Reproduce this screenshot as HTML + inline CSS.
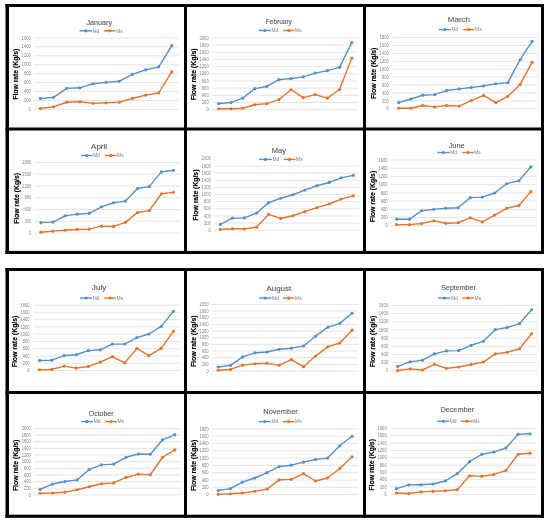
<!DOCTYPE html>
<html><head><meta charset="utf-8"><title>Flow rate charts</title>
<style>
html,body{margin:0;padding:0;background:#fff;}
svg{display:block;}
text{font-family:"Liberation Sans",Arial,sans-serif;}
.t{fill:#858585;font-size:4.6px;text-anchor:end;}
.ti{fill:#595959;font-size:7.3px;stroke:#595959;stroke-width:0.12px;}
.lg{fill:#7E7E7E;font-size:4.9px;}
.yt{font-weight:bold;fill:#000;font-size:7.4px;text-anchor:middle;stroke:#000;stroke-width:0.15px;}
.g{stroke:#E2E2E2;stroke-width:0.9;}
.lb{stroke:#5591CB;stroke-width:1.4;fill:none;stroke-linejoin:round;}
.lo{stroke:#E4752E;stroke-width:1.4;fill:none;stroke-linejoin:round;}
.mb{fill:#5591CB;}
.mo{fill:#E4752E;}
</style></head><body>
<svg width="550" height="523" viewBox="0 0 550 523">
<rect width="550" height="523" fill="#fff"/>
<g>
<line class="g" x1="33.79" y1="109.4" x2="178.39" y2="109.4"/>
<line class="g" x1="33.79" y1="100.46" x2="178.39" y2="100.46"/>
<line class="g" x1="33.79" y1="91.53" x2="178.39" y2="91.53"/>
<line class="g" x1="33.79" y1="82.59" x2="178.39" y2="82.59"/>
<line class="g" x1="33.79" y1="73.65" x2="178.39" y2="73.65"/>
<line class="g" x1="33.79" y1="64.71" x2="178.39" y2="64.71"/>
<line class="g" x1="33.79" y1="55.78" x2="178.39" y2="55.78"/>
<line class="g" x1="33.79" y1="46.84" x2="178.39" y2="46.84"/>
<line class="g" x1="33.79" y1="37.9" x2="178.39" y2="37.9"/>
<text class="t" x="30.8" y="111.05" textLength="2.3" lengthAdjust="spacingAndGlyphs">0</text>
<text class="t" x="30.8" y="102.11" textLength="6.9" lengthAdjust="spacingAndGlyphs">200</text>
<text class="t" x="30.8" y="93.18" textLength="6.9" lengthAdjust="spacingAndGlyphs">400</text>
<text class="t" x="30.8" y="84.24" textLength="6.9" lengthAdjust="spacingAndGlyphs">600</text>
<text class="t" x="30.8" y="75.3" textLength="6.9" lengthAdjust="spacingAndGlyphs">800</text>
<text class="t" x="30.8" y="66.36" textLength="9.2" lengthAdjust="spacingAndGlyphs">1000</text>
<text class="t" x="30.8" y="57.43" textLength="9.2" lengthAdjust="spacingAndGlyphs">1200</text>
<text class="t" x="30.8" y="48.49" textLength="9.2" lengthAdjust="spacingAndGlyphs">1400</text>
<text class="t" x="30.8" y="39.55" textLength="9.2" lengthAdjust="spacingAndGlyphs">1600</text>
<text class="ti" x="86.5" y="24.7" textLength="25.5" lengthAdjust="spacingAndGlyphs">January</text>
<line class="lb" x1="79.6" y1="30.8" x2="91.9" y2="30.8"/><circle class="mb" cx="85.75" cy="30.8" r="1.6"/>
<text class="lg" x="92.5" y="32.55">Md</text>
<line class="lo" x1="103.9" y1="30.8" x2="115.6" y2="30.8"/><circle class="mo" cx="109.75" cy="30.8" r="1.6"/>
<text class="lg" x="116.2" y="32.55">Ms</text>
<text class="yt" textLength="51" lengthAdjust="spacingAndGlyphs" transform="translate(17.6,74.2) rotate(-90)">Flow rate (Kg/s)</text>
<polyline class="lb" points="40.36,98.45 53.45,97.36 66.82,88.36 79.91,87.82 93,83.73 106.09,82.36 119.18,81.27 132.27,74.45 145.64,69.82 158.73,66.82 171.82,45.55"/>
<circle class="mb" cx="40.36" cy="98.45" r="1.6"/><circle class="mb" cx="53.45" cy="97.36" r="1.6"/><circle class="mb" cx="66.82" cy="88.36" r="1.6"/><circle class="mb" cx="79.91" cy="87.82" r="1.6"/><circle class="mb" cx="93" cy="83.73" r="1.6"/><circle class="mb" cx="106.09" cy="82.36" r="1.6"/><circle class="mb" cx="119.18" cy="81.27" r="1.6"/><circle class="mb" cx="132.27" cy="74.45" r="1.6"/><circle class="mb" cx="145.64" cy="69.82" r="1.6"/><circle class="mb" cx="158.73" cy="66.82" r="1.6"/><circle class="mb" cx="171.82" cy="45.55" r="1.6"/>
<polyline class="lo" points="40.36,108.55 53.45,106.91 66.82,102.27 79.91,101.73 93,103.36 106.09,102.82 119.18,102.27 132.27,98.45 145.64,95.18 158.73,93 171.82,71.73"/>
<circle class="mo" cx="40.36" cy="108.55" r="1.6"/><circle class="mo" cx="53.45" cy="106.91" r="1.6"/><circle class="mo" cx="66.82" cy="102.27" r="1.6"/><circle class="mo" cx="79.91" cy="101.73" r="1.6"/><circle class="mo" cx="93" cy="103.36" r="1.6"/><circle class="mo" cx="106.09" cy="102.82" r="1.6"/><circle class="mo" cx="119.18" cy="102.27" r="1.6"/><circle class="mo" cx="132.27" cy="98.45" r="1.6"/><circle class="mo" cx="145.64" cy="95.18" r="1.6"/><circle class="mo" cx="158.73" cy="93" r="1.6"/><circle class="mo" cx="171.82" cy="71.73" r="1.6"/>
</g>
<g>
<line class="g" x1="212.68" y1="109.7" x2="357.87" y2="109.7"/>
<line class="g" x1="212.68" y1="102.52" x2="357.87" y2="102.52"/>
<line class="g" x1="212.68" y1="95.34" x2="357.87" y2="95.34"/>
<line class="g" x1="212.68" y1="88.16" x2="357.87" y2="88.16"/>
<line class="g" x1="212.68" y1="80.98" x2="357.87" y2="80.98"/>
<line class="g" x1="212.68" y1="73.8" x2="357.87" y2="73.8"/>
<line class="g" x1="212.68" y1="66.62" x2="357.87" y2="66.62"/>
<line class="g" x1="212.68" y1="59.44" x2="357.87" y2="59.44"/>
<line class="g" x1="212.68" y1="52.26" x2="357.87" y2="52.26"/>
<line class="g" x1="212.68" y1="45.08" x2="357.87" y2="45.08"/>
<line class="g" x1="212.68" y1="37.9" x2="357.87" y2="37.9"/>
<text class="t" x="208.7" y="111.35" textLength="2.3" lengthAdjust="spacingAndGlyphs">0</text>
<text class="t" x="208.7" y="104.17" textLength="6.9" lengthAdjust="spacingAndGlyphs">200</text>
<text class="t" x="208.7" y="96.99" textLength="6.9" lengthAdjust="spacingAndGlyphs">400</text>
<text class="t" x="208.7" y="89.81" textLength="6.9" lengthAdjust="spacingAndGlyphs">600</text>
<text class="t" x="208.7" y="82.63" textLength="6.9" lengthAdjust="spacingAndGlyphs">800</text>
<text class="t" x="208.7" y="75.45" textLength="9.2" lengthAdjust="spacingAndGlyphs">1000</text>
<text class="t" x="208.7" y="68.27" textLength="9.2" lengthAdjust="spacingAndGlyphs">1200</text>
<text class="t" x="208.7" y="61.09" textLength="9.2" lengthAdjust="spacingAndGlyphs">1400</text>
<text class="t" x="208.7" y="53.91" textLength="9.2" lengthAdjust="spacingAndGlyphs">1600</text>
<text class="t" x="208.7" y="46.73" textLength="9.2" lengthAdjust="spacingAndGlyphs">1800</text>
<text class="t" x="208.7" y="39.55" textLength="9.2" lengthAdjust="spacingAndGlyphs">2000</text>
<text class="ti" x="265.8" y="23.6" textLength="26" lengthAdjust="spacingAndGlyphs">February</text>
<line class="lb" x1="258.7" y1="30.5" x2="270.9" y2="30.5"/><circle class="mb" cx="264.8" cy="30.5" r="1.6"/>
<text class="lg" x="271.5" y="32.25">Md</text>
<line class="lo" x1="283.1" y1="30.5" x2="294.5" y2="30.5"/><circle class="mo" cx="288.8" cy="30.5" r="1.6"/>
<text class="lg" x="295.1" y="32.25">Ms</text>
<text class="yt" textLength="51.9" lengthAdjust="spacingAndGlyphs" transform="translate(196,74.35) rotate(-90)">Flow rate (Kg/s)</text>
<polyline class="lb" points="218.73,103.64 231,102.55 242.73,98.18 254.73,88.64 266.73,86.45 279,79.64 291,78.55 303.27,76.91 315.27,73.09 327.27,70.64 339.55,67.36 351.82,42.55"/>
<circle class="mb" cx="218.73" cy="103.64" r="1.6"/><circle class="mb" cx="231" cy="102.55" r="1.6"/><circle class="mb" cx="242.73" cy="98.18" r="1.6"/><circle class="mb" cx="254.73" cy="88.64" r="1.6"/><circle class="mb" cx="266.73" cy="86.45" r="1.6"/><circle class="mb" cx="279" cy="79.64" r="1.6"/><circle class="mb" cx="291" cy="78.55" r="1.6"/><circle class="mb" cx="303.27" cy="76.91" r="1.6"/><circle class="mb" cx="315.27" cy="73.09" r="1.6"/><circle class="mb" cx="327.27" cy="70.64" r="1.6"/><circle class="mb" cx="339.55" cy="67.36" r="1.6"/><circle class="mb" cx="351.82" cy="42.55" r="1.6"/>
<polyline class="lo" points="218.73,108.82 231,108.82 242.73,108.27 254.73,104.73 266.73,103.64 279,99.55 291,89.73 303.27,97.64 315.27,94.64 327.27,98.18 339.55,89.45 351.82,58.09"/>
<circle class="mo" cx="218.73" cy="108.82" r="1.6"/><circle class="mo" cx="231" cy="108.82" r="1.6"/><circle class="mo" cx="242.73" cy="108.27" r="1.6"/><circle class="mo" cx="254.73" cy="104.73" r="1.6"/><circle class="mo" cx="266.73" cy="103.64" r="1.6"/><circle class="mo" cx="279" cy="99.55" r="1.6"/><circle class="mo" cx="291" cy="89.73" r="1.6"/><circle class="mo" cx="303.27" cy="97.64" r="1.6"/><circle class="mo" cx="315.27" cy="94.64" r="1.6"/><circle class="mo" cx="327.27" cy="98.18" r="1.6"/><circle class="mo" cx="339.55" cy="89.45" r="1.6"/><circle class="mo" cx="351.82" cy="58.09" r="1.6"/>
</g>
<g>
<line class="g" x1="392.67" y1="108.8" x2="538.15" y2="108.8"/>
<line class="g" x1="392.67" y1="100.89" x2="538.15" y2="100.89"/>
<line class="g" x1="392.67" y1="92.98" x2="538.15" y2="92.98"/>
<line class="g" x1="392.67" y1="85.07" x2="538.15" y2="85.07"/>
<line class="g" x1="392.67" y1="77.16" x2="538.15" y2="77.16"/>
<line class="g" x1="392.67" y1="69.24" x2="538.15" y2="69.24"/>
<line class="g" x1="392.67" y1="61.33" x2="538.15" y2="61.33"/>
<line class="g" x1="392.67" y1="53.42" x2="538.15" y2="53.42"/>
<line class="g" x1="392.67" y1="45.51" x2="538.15" y2="45.51"/>
<line class="g" x1="392.67" y1="37.6" x2="538.15" y2="37.6"/>
<text class="t" x="388.8" y="110.45" textLength="2.3" lengthAdjust="spacingAndGlyphs">0</text>
<text class="t" x="388.8" y="102.54" textLength="6.9" lengthAdjust="spacingAndGlyphs">200</text>
<text class="t" x="388.8" y="94.63" textLength="6.9" lengthAdjust="spacingAndGlyphs">400</text>
<text class="t" x="388.8" y="86.72" textLength="6.9" lengthAdjust="spacingAndGlyphs">600</text>
<text class="t" x="388.8" y="78.81" textLength="6.9" lengthAdjust="spacingAndGlyphs">800</text>
<text class="t" x="388.8" y="70.89" textLength="9.2" lengthAdjust="spacingAndGlyphs">1000</text>
<text class="t" x="388.8" y="62.98" textLength="9.2" lengthAdjust="spacingAndGlyphs">1200</text>
<text class="t" x="388.8" y="55.07" textLength="9.2" lengthAdjust="spacingAndGlyphs">1400</text>
<text class="t" x="388.8" y="47.16" textLength="9.2" lengthAdjust="spacingAndGlyphs">1600</text>
<text class="t" x="388.8" y="39.25" textLength="9.2" lengthAdjust="spacingAndGlyphs">1800</text>
<text class="ti" x="447.8" y="21.8" textLength="22.2" lengthAdjust="spacingAndGlyphs">March</text>
<line class="lb" x1="438.7" y1="29.6" x2="450.9" y2="29.6"/><circle class="mb" cx="444.8" cy="29.6" r="1.6"/>
<text class="lg" x="451.5" y="31.35">Md</text>
<line class="lo" x1="463.1" y1="29.6" x2="474.5" y2="29.6"/><circle class="mo" cx="468.8" cy="29.6" r="1.6"/>
<text class="lg" x="475.1" y="31.35">Ms</text>
<text class="yt" textLength="51.5" lengthAdjust="spacingAndGlyphs" transform="translate(375.65,73.35) rotate(-90)">Flow rate (Kg/s)</text>
<polyline class="lb" points="398.73,102.55 411,99 422.73,95.18 434.73,94.64 446.73,90.55 459.27,88.91 471.27,87.55 483.55,85.91 495.82,83.73 507.82,82.64 520.09,59.73 532.09,41.45"/>
<circle class="mb" cx="398.73" cy="102.55" r="1.6"/><circle class="mb" cx="411" cy="99" r="1.6"/><circle class="mb" cx="422.73" cy="95.18" r="1.6"/><circle class="mb" cx="434.73" cy="94.64" r="1.6"/><circle class="mb" cx="446.73" cy="90.55" r="1.6"/><circle class="mb" cx="459.27" cy="88.91" r="1.6"/><circle class="mb" cx="471.27" cy="87.55" r="1.6"/><circle class="mb" cx="483.55" cy="85.91" r="1.6"/><circle class="mb" cx="495.82" cy="83.73" r="1.6"/><circle class="mb" cx="507.82" cy="82.64" r="1.6"/><circle class="mb" cx="520.09" cy="59.73" r="1.6"/><circle class="mb" cx="532.09" cy="41.45" r="1.6"/>
<polyline class="lo" points="398.73,108.27 411,108.27 422.73,105.55 434.73,106.91 446.73,105.55 459.27,106.09 471.27,100.64 483.55,95.45 495.82,102.55 507.82,96.27 520.09,84.55 532.09,62.45"/>
<circle class="mo" cx="398.73" cy="108.27" r="1.6"/><circle class="mo" cx="411" cy="108.27" r="1.6"/><circle class="mo" cx="422.73" cy="105.55" r="1.6"/><circle class="mo" cx="434.73" cy="106.91" r="1.6"/><circle class="mo" cx="446.73" cy="105.55" r="1.6"/><circle class="mo" cx="459.27" cy="106.09" r="1.6"/><circle class="mo" cx="471.27" cy="100.64" r="1.6"/><circle class="mo" cx="483.55" cy="95.45" r="1.6"/><circle class="mo" cx="495.82" cy="102.55" r="1.6"/><circle class="mo" cx="507.82" cy="96.27" r="1.6"/><circle class="mo" cx="520.09" cy="84.55" r="1.6"/><circle class="mo" cx="532.09" cy="62.45" r="1.6"/>
</g>
<g>
<line class="g" x1="34.88" y1="233" x2="179.48" y2="233"/>
<line class="g" x1="34.88" y1="221.27" x2="179.48" y2="221.27"/>
<line class="g" x1="34.88" y1="209.53" x2="179.48" y2="209.53"/>
<line class="g" x1="34.88" y1="197.8" x2="179.48" y2="197.8"/>
<line class="g" x1="34.88" y1="186.07" x2="179.48" y2="186.07"/>
<line class="g" x1="34.88" y1="174.33" x2="179.48" y2="174.33"/>
<line class="g" x1="34.88" y1="162.6" x2="179.48" y2="162.6"/>
<text class="t" x="31.3" y="234.65" textLength="2.3" lengthAdjust="spacingAndGlyphs">0</text>
<text class="t" x="31.3" y="222.92" textLength="6.9" lengthAdjust="spacingAndGlyphs">300</text>
<text class="t" x="31.3" y="211.18" textLength="6.9" lengthAdjust="spacingAndGlyphs">600</text>
<text class="t" x="31.3" y="199.45" textLength="6.9" lengthAdjust="spacingAndGlyphs">900</text>
<text class="t" x="31.3" y="187.72" textLength="9.2" lengthAdjust="spacingAndGlyphs">1200</text>
<text class="t" x="31.3" y="175.98" textLength="9.2" lengthAdjust="spacingAndGlyphs">1500</text>
<text class="t" x="31.3" y="164.25" textLength="9.2" lengthAdjust="spacingAndGlyphs">1800</text>
<text class="ti" x="91.1" y="148.7" textLength="16" lengthAdjust="spacingAndGlyphs">April</text>
<line class="lb" x1="80.8" y1="155.5" x2="92.7" y2="155.5"/><circle class="mb" cx="86.75" cy="155.5" r="1.6"/>
<text class="lg" x="93.3" y="157.25">Md</text>
<line class="lo" x1="105" y1="155.5" x2="116.5" y2="155.5"/><circle class="mo" cx="110.75" cy="155.5" r="1.6"/>
<text class="lg" x="117.1" y="157.25">Ms</text>
<text class="yt" textLength="51" lengthAdjust="spacingAndGlyphs" transform="translate(18.7,198.5) rotate(-90)">Flow rate (Kg/s)</text>
<polyline class="lb" points="40.91,222.64 52.91,222.09 65.18,215.82 77.18,214.18 89.18,213.36 101.45,206.82 113.45,202.73 125.45,201.09 137.45,188.55 149.18,186.64 161.45,171.91 173.45,170.27"/>
<circle class="mb" cx="40.91" cy="222.64" r="1.6"/><circle class="mb" cx="52.91" cy="222.09" r="1.6"/><circle class="mb" cx="65.18" cy="215.82" r="1.6"/><circle class="mb" cx="77.18" cy="214.18" r="1.6"/><circle class="mb" cx="89.18" cy="213.36" r="1.6"/><circle class="mb" cx="101.45" cy="206.82" r="1.6"/><circle class="mb" cx="113.45" cy="202.73" r="1.6"/><circle class="mb" cx="125.45" cy="201.09" r="1.6"/><circle class="mb" cx="137.45" cy="188.55" r="1.6"/><circle class="mb" cx="149.18" cy="186.64" r="1.6"/><circle class="mb" cx="161.45" cy="171.91" r="1.6"/><circle class="mb" cx="173.45" cy="170.27" r="1.6"/>
<polyline class="lo" points="40.91,232.18 52.91,231.09 65.18,230.27 77.18,229.45 89.18,229.18 101.45,226.18 113.45,226.45 125.45,222.36 137.45,212.55 149.18,210.64 161.45,193.73 173.45,192.36"/>
<circle class="mo" cx="40.91" cy="232.18" r="1.6"/><circle class="mo" cx="52.91" cy="231.09" r="1.6"/><circle class="mo" cx="65.18" cy="230.27" r="1.6"/><circle class="mo" cx="77.18" cy="229.45" r="1.6"/><circle class="mo" cx="89.18" cy="229.18" r="1.6"/><circle class="mo" cx="101.45" cy="226.18" r="1.6"/><circle class="mo" cx="113.45" cy="226.45" r="1.6"/><circle class="mo" cx="125.45" cy="222.36" r="1.6"/><circle class="mo" cx="137.45" cy="212.55" r="1.6"/><circle class="mo" cx="149.18" cy="210.64" r="1.6"/><circle class="mo" cx="161.45" cy="193.73" r="1.6"/><circle class="mo" cx="173.45" cy="192.36" r="1.6"/>
</g>
<g>
<line class="g" x1="214.33" y1="230.2" x2="359.22" y2="230.2"/>
<line class="g" x1="214.33" y1="223.06" x2="359.22" y2="223.06"/>
<line class="g" x1="214.33" y1="215.92" x2="359.22" y2="215.92"/>
<line class="g" x1="214.33" y1="208.78" x2="359.22" y2="208.78"/>
<line class="g" x1="214.33" y1="201.64" x2="359.22" y2="201.64"/>
<line class="g" x1="214.33" y1="194.5" x2="359.22" y2="194.5"/>
<line class="g" x1="214.33" y1="187.36" x2="359.22" y2="187.36"/>
<line class="g" x1="214.33" y1="180.22" x2="359.22" y2="180.22"/>
<line class="g" x1="214.33" y1="173.08" x2="359.22" y2="173.08"/>
<line class="g" x1="214.33" y1="165.94" x2="359.22" y2="165.94"/>
<text class="t" x="210.8" y="231.85" textLength="2.3" lengthAdjust="spacingAndGlyphs">0</text>
<text class="t" x="210.8" y="224.71" textLength="6.9" lengthAdjust="spacingAndGlyphs">200</text>
<text class="t" x="210.8" y="217.57" textLength="6.9" lengthAdjust="spacingAndGlyphs">400</text>
<text class="t" x="210.8" y="210.43" textLength="6.9" lengthAdjust="spacingAndGlyphs">600</text>
<text class="t" x="210.8" y="203.29" textLength="6.9" lengthAdjust="spacingAndGlyphs">800</text>
<text class="t" x="210.8" y="196.15" textLength="9.2" lengthAdjust="spacingAndGlyphs">1000</text>
<text class="t" x="210.8" y="189.01" textLength="9.2" lengthAdjust="spacingAndGlyphs">1200</text>
<text class="t" x="210.8" y="181.87" textLength="9.2" lengthAdjust="spacingAndGlyphs">1400</text>
<text class="t" x="210.8" y="174.73" textLength="9.2" lengthAdjust="spacingAndGlyphs">1600</text>
<text class="t" x="210.8" y="167.59" textLength="9.2" lengthAdjust="spacingAndGlyphs">1800</text>
<text class="t" x="210.8" y="160.45" textLength="9.2" lengthAdjust="spacingAndGlyphs">2000</text>
<text class="ti" x="271.8" y="152.6" textLength="14.2" lengthAdjust="spacingAndGlyphs">May</text>
<line class="lb" x1="259" y1="159.4" x2="271.8" y2="159.4"/><circle class="mb" cx="265.4" cy="159.4" r="1.6"/>
<text class="lg" x="272.4" y="161.15">Md</text>
<line class="lo" x1="283.6" y1="159.4" x2="295.5" y2="159.4"/><circle class="mo" cx="289.55" cy="159.4" r="1.6"/>
<text class="lg" x="296.1" y="161.15">Ms</text>
<text class="yt" textLength="51.1" lengthAdjust="spacingAndGlyphs" transform="translate(198.3,195.15) rotate(-90)">Flow rate (Kg/s)</text>
<polyline class="lb" points="220.36,224.45 232.36,218.18 244.36,217.91 256.64,213 268.64,202.64 280.64,198.27 292.91,194.73 304.91,190.09 316.91,185.73 329.18,182.45 341.18,177.82 353.18,175.36"/>
<circle class="mb" cx="220.36" cy="224.45" r="1.6"/><circle class="mb" cx="232.36" cy="218.18" r="1.6"/><circle class="mb" cx="244.36" cy="217.91" r="1.6"/><circle class="mb" cx="256.64" cy="213" r="1.6"/><circle class="mb" cx="268.64" cy="202.64" r="1.6"/><circle class="mb" cx="280.64" cy="198.27" r="1.6"/><circle class="mb" cx="292.91" cy="194.73" r="1.6"/><circle class="mb" cx="304.91" cy="190.09" r="1.6"/><circle class="mb" cx="316.91" cy="185.73" r="1.6"/><circle class="mb" cx="329.18" cy="182.45" r="1.6"/><circle class="mb" cx="341.18" cy="177.82" r="1.6"/><circle class="mb" cx="353.18" cy="175.36" r="1.6"/>
<polyline class="lo" points="220.36,229.36 232.36,228.82 244.36,228.82 256.64,227.18 268.64,214.36 280.64,218.45 292.91,215.73 304.91,211.64 316.91,207.55 329.18,204 341.18,199.09 353.18,195.82"/>
<circle class="mo" cx="220.36" cy="229.36" r="1.6"/><circle class="mo" cx="232.36" cy="228.82" r="1.6"/><circle class="mo" cx="244.36" cy="228.82" r="1.6"/><circle class="mo" cx="256.64" cy="227.18" r="1.6"/><circle class="mo" cx="268.64" cy="214.36" r="1.6"/><circle class="mo" cx="280.64" cy="218.45" r="1.6"/><circle class="mo" cx="292.91" cy="215.73" r="1.6"/><circle class="mo" cx="304.91" cy="211.64" r="1.6"/><circle class="mo" cx="316.91" cy="207.55" r="1.6"/><circle class="mo" cx="329.18" cy="204" r="1.6"/><circle class="mo" cx="341.18" cy="199.09" r="1.6"/><circle class="mo" cx="353.18" cy="195.82" r="1.6"/>
</g>
<g>
<line class="g" x1="390.63" y1="225.7" x2="537.01" y2="225.7"/>
<line class="g" x1="390.63" y1="217.49" x2="537.01" y2="217.49"/>
<line class="g" x1="390.63" y1="209.27" x2="537.01" y2="209.27"/>
<line class="g" x1="390.63" y1="201.06" x2="537.01" y2="201.06"/>
<line class="g" x1="390.63" y1="192.85" x2="537.01" y2="192.85"/>
<line class="g" x1="390.63" y1="184.64" x2="537.01" y2="184.64"/>
<line class="g" x1="390.63" y1="176.43" x2="537.01" y2="176.43"/>
<line class="g" x1="390.63" y1="168.21" x2="537.01" y2="168.21"/>
<line class="g" x1="390.63" y1="160" x2="537.01" y2="160"/>
<text class="t" x="387.6" y="227.35" textLength="2.3" lengthAdjust="spacingAndGlyphs">0</text>
<text class="t" x="387.6" y="219.14" textLength="6.9" lengthAdjust="spacingAndGlyphs">200</text>
<text class="t" x="387.6" y="210.92" textLength="6.9" lengthAdjust="spacingAndGlyphs">400</text>
<text class="t" x="387.6" y="202.71" textLength="6.9" lengthAdjust="spacingAndGlyphs">600</text>
<text class="t" x="387.6" y="194.5" textLength="6.9" lengthAdjust="spacingAndGlyphs">800</text>
<text class="t" x="387.6" y="186.29" textLength="9.2" lengthAdjust="spacingAndGlyphs">1000</text>
<text class="t" x="387.6" y="178.08" textLength="9.2" lengthAdjust="spacingAndGlyphs">1200</text>
<text class="t" x="387.6" y="169.86" textLength="9.2" lengthAdjust="spacingAndGlyphs">1400</text>
<text class="t" x="387.6" y="161.65" textLength="9.2" lengthAdjust="spacingAndGlyphs">1600</text>
<text class="ti" x="448.7" y="147.5" textLength="15.8" lengthAdjust="spacingAndGlyphs">June</text>
<line class="lb" x1="437.3" y1="152.5" x2="449.6" y2="152.5"/><circle class="mb" cx="443.45" cy="152.5" r="1.6"/>
<text class="lg" x="450.2" y="154.25">Md</text>
<line class="lo" x1="462.2" y1="152.5" x2="473.6" y2="152.5"/><circle class="mo" cx="467.9" cy="152.5" r="1.6"/>
<text class="lg" x="474.2" y="154.25">Ms</text>
<text class="yt" textLength="51.5" lengthAdjust="spacingAndGlyphs" transform="translate(375.2,196.55) rotate(-90)">Flow rate (Kg/s)</text>
<polyline class="lb" points="396.73,219.18 409.55,219.18 421.55,210.73 433.82,209.36 445.82,208.27 458.09,207.73 470.36,197.64 482.36,197.09 494.64,193 506.64,183.73 518.91,180.73 530.91,166.82"/>
<circle class="mb" cx="396.73" cy="219.18" r="1.6"/><circle class="mb" cx="409.55" cy="219.18" r="1.6"/><circle class="mb" cx="421.55" cy="210.73" r="1.6"/><circle class="mb" cx="433.82" cy="209.36" r="1.6"/><circle class="mb" cx="445.82" cy="208.27" r="1.6"/><circle class="mb" cx="458.09" cy="207.73" r="1.6"/><circle class="mb" cx="470.36" cy="197.64" r="1.6"/><circle class="mb" cx="482.36" cy="197.09" r="1.6"/><circle class="mb" cx="494.64" cy="193" r="1.6"/><circle class="mb" cx="506.64" cy="183.73" r="1.6"/><circle class="mb" cx="518.91" cy="180.73" r="1.6"/><circle class="mb" cx="530.91" cy="166.82" r="1.6"/>
<polyline class="lo" points="396.73,224.64 409.55,224.64 421.55,223.55 433.82,220.82 445.82,223.27 458.09,222.73 470.36,217.82 482.36,221.91 494.64,215.09 506.64,208.27 518.91,205.55 530.91,191.64"/>
<circle class="mo" cx="396.73" cy="224.64" r="1.6"/><circle class="mo" cx="409.55" cy="224.64" r="1.6"/><circle class="mo" cx="421.55" cy="223.55" r="1.6"/><circle class="mo" cx="433.82" cy="220.82" r="1.6"/><circle class="mo" cx="445.82" cy="223.27" r="1.6"/><circle class="mo" cx="458.09" cy="222.73" r="1.6"/><circle class="mo" cx="470.36" cy="217.82" r="1.6"/><circle class="mo" cx="482.36" cy="221.91" r="1.6"/><circle class="mo" cx="494.64" cy="215.09" r="1.6"/><circle class="mo" cx="506.64" cy="208.27" r="1.6"/><circle class="mo" cx="518.91" cy="205.55" r="1.6"/><circle class="mo" cx="530.91" cy="191.64" r="1.6"/>
</g>
<g>
<line class="g" x1="33.46" y1="370.5" x2="179.54" y2="370.5"/>
<line class="g" x1="33.46" y1="363.24" x2="179.54" y2="363.24"/>
<line class="g" x1="33.46" y1="355.99" x2="179.54" y2="355.99"/>
<line class="g" x1="33.46" y1="348.73" x2="179.54" y2="348.73"/>
<line class="g" x1="33.46" y1="341.48" x2="179.54" y2="341.48"/>
<line class="g" x1="33.46" y1="334.22" x2="179.54" y2="334.22"/>
<line class="g" x1="33.46" y1="326.97" x2="179.54" y2="326.97"/>
<line class="g" x1="33.46" y1="319.71" x2="179.54" y2="319.71"/>
<line class="g" x1="33.46" y1="312.46" x2="179.54" y2="312.46"/>
<line class="g" x1="33.46" y1="305.2" x2="179.54" y2="305.2"/>
<text class="t" x="29.6" y="372.15" textLength="2.3" lengthAdjust="spacingAndGlyphs">0</text>
<text class="t" x="29.6" y="364.89" textLength="6.9" lengthAdjust="spacingAndGlyphs">200</text>
<text class="t" x="29.6" y="357.64" textLength="6.9" lengthAdjust="spacingAndGlyphs">400</text>
<text class="t" x="29.6" y="350.38" textLength="6.9" lengthAdjust="spacingAndGlyphs">600</text>
<text class="t" x="29.6" y="343.13" textLength="6.9" lengthAdjust="spacingAndGlyphs">800</text>
<text class="t" x="29.6" y="335.87" textLength="9.2" lengthAdjust="spacingAndGlyphs">1000</text>
<text class="t" x="29.6" y="328.62" textLength="9.2" lengthAdjust="spacingAndGlyphs">1200</text>
<text class="t" x="29.6" y="321.36" textLength="9.2" lengthAdjust="spacingAndGlyphs">1400</text>
<text class="t" x="29.6" y="314.11" textLength="9.2" lengthAdjust="spacingAndGlyphs">1600</text>
<text class="t" x="29.6" y="306.85" textLength="9.2" lengthAdjust="spacingAndGlyphs">1800</text>
<text class="ti" x="91.8" y="289.9" textLength="14.6" lengthAdjust="spacingAndGlyphs">July</text>
<line class="lb" x1="80" y1="298.1" x2="92.2" y2="298.1"/><circle class="mb" cx="86.1" cy="298.1" r="1.6"/>
<text class="lg" x="92.8" y="299.85">Md</text>
<line class="lo" x1="104.2" y1="298.1" x2="115.8" y2="298.1"/><circle class="mo" cx="110" cy="298.1" r="1.6"/>
<text class="lg" x="116.4" y="299.85">Ms</text>
<text class="yt" textLength="51.7" lengthAdjust="spacingAndGlyphs" transform="translate(17,341.45) rotate(-90)">Flow rate (Kg/s)</text>
<polyline class="lb" points="39.55,360.45 51.82,360.18 64.09,355.55 76.09,354.73 88.36,350.64 100.36,349.82 112.36,344.09 124.64,344.09 136.91,337.55 148.91,334 161.18,326.36 173.45,311.36"/>
<circle class="mb" cx="39.55" cy="360.45" r="1.6"/><circle class="mb" cx="51.82" cy="360.18" r="1.6"/><circle class="mb" cx="64.09" cy="355.55" r="1.6"/><circle class="mb" cx="76.09" cy="354.73" r="1.6"/><circle class="mb" cx="88.36" cy="350.64" r="1.6"/><circle class="mb" cx="100.36" cy="349.82" r="1.6"/><circle class="mb" cx="112.36" cy="344.09" r="1.6"/><circle class="mb" cx="124.64" cy="344.09" r="1.6"/><circle class="mb" cx="136.91" cy="337.55" r="1.6"/><circle class="mb" cx="148.91" cy="334" r="1.6"/><circle class="mb" cx="161.18" cy="326.36" r="1.6"/><circle class="mb" cx="173.45" cy="311.36" r="1.6"/>
<polyline class="lo" points="39.55,369.73 51.82,369.45 64.09,366.18 76.09,368.09 88.36,366.45 100.36,362.09 112.36,356.64 124.64,362.91 136.91,348.45 148.91,355.55 161.18,348.45 173.45,331.27"/>
<circle class="mo" cx="39.55" cy="369.73" r="1.6"/><circle class="mo" cx="51.82" cy="369.45" r="1.6"/><circle class="mo" cx="64.09" cy="366.18" r="1.6"/><circle class="mo" cx="76.09" cy="368.09" r="1.6"/><circle class="mo" cx="88.36" cy="366.45" r="1.6"/><circle class="mo" cx="100.36" cy="362.09" r="1.6"/><circle class="mo" cx="112.36" cy="356.64" r="1.6"/><circle class="mo" cx="124.64" cy="362.91" r="1.6"/><circle class="mo" cx="136.91" cy="348.45" r="1.6"/><circle class="mo" cx="148.91" cy="355.55" r="1.6"/><circle class="mo" cx="161.18" cy="348.45" r="1.6"/><circle class="mo" cx="173.45" cy="331.27" r="1.6"/>
</g>
<g>
<line class="g" x1="212.1" y1="371" x2="358.18" y2="371"/>
<line class="g" x1="212.1" y1="364.35" x2="358.18" y2="364.35"/>
<line class="g" x1="212.1" y1="357.7" x2="358.18" y2="357.7"/>
<line class="g" x1="212.1" y1="351.05" x2="358.18" y2="351.05"/>
<line class="g" x1="212.1" y1="344.4" x2="358.18" y2="344.4"/>
<line class="g" x1="212.1" y1="337.75" x2="358.18" y2="337.75"/>
<line class="g" x1="212.1" y1="331.1" x2="358.18" y2="331.1"/>
<line class="g" x1="212.1" y1="324.45" x2="358.18" y2="324.45"/>
<line class="g" x1="212.1" y1="317.8" x2="358.18" y2="317.8"/>
<line class="g" x1="212.1" y1="311.15" x2="358.18" y2="311.15"/>
<line class="g" x1="212.1" y1="304.5" x2="358.18" y2="304.5"/>
<text class="t" x="208.6" y="372.65" textLength="2.3" lengthAdjust="spacingAndGlyphs">0</text>
<text class="t" x="208.6" y="366" textLength="6.9" lengthAdjust="spacingAndGlyphs">200</text>
<text class="t" x="208.6" y="359.35" textLength="6.9" lengthAdjust="spacingAndGlyphs">400</text>
<text class="t" x="208.6" y="352.7" textLength="6.9" lengthAdjust="spacingAndGlyphs">600</text>
<text class="t" x="208.6" y="346.05" textLength="6.9" lengthAdjust="spacingAndGlyphs">800</text>
<text class="t" x="208.6" y="339.4" textLength="9.2" lengthAdjust="spacingAndGlyphs">1000</text>
<text class="t" x="208.6" y="332.75" textLength="9.2" lengthAdjust="spacingAndGlyphs">1200</text>
<text class="t" x="208.6" y="326.1" textLength="9.2" lengthAdjust="spacingAndGlyphs">1400</text>
<text class="t" x="208.6" y="319.45" textLength="9.2" lengthAdjust="spacingAndGlyphs">1600</text>
<text class="t" x="208.6" y="312.8" textLength="9.2" lengthAdjust="spacingAndGlyphs">1800</text>
<text class="t" x="208.6" y="306.15" textLength="9.2" lengthAdjust="spacingAndGlyphs">2000</text>
<text class="ti" x="266.4" y="290.5" textLength="24.9" lengthAdjust="spacingAndGlyphs">August</text>
<line class="lb" x1="259.1" y1="298.1" x2="271.5" y2="298.1"/><circle class="mb" cx="265.3" cy="298.1" r="1.6"/>
<text class="lg" x="272.1" y="299.85">Md</text>
<line class="lo" x1="283.1" y1="298.1" x2="294.5" y2="298.1"/><circle class="mo" cx="288.8" cy="298.1" r="1.6"/>
<text class="lg" x="295.1" y="299.85">Ms</text>
<text class="yt" textLength="51.7" lengthAdjust="spacingAndGlyphs" transform="translate(196,341.25) rotate(-90)">Flow rate (Kg/s)</text>
<polyline class="lb" points="218.18,367 230.45,365.36 242.73,356.91 255,352.82 267,352 279,349.27 291.27,348.18 303.55,346 315.55,336.18 327.82,327.18 339.82,323.36 352.09,313.27"/>
<circle class="mb" cx="218.18" cy="367" r="1.6"/><circle class="mb" cx="230.45" cy="365.36" r="1.6"/><circle class="mb" cx="242.73" cy="356.91" r="1.6"/><circle class="mb" cx="255" cy="352.82" r="1.6"/><circle class="mb" cx="267" cy="352" r="1.6"/><circle class="mb" cx="279" cy="349.27" r="1.6"/><circle class="mb" cx="291.27" cy="348.18" r="1.6"/><circle class="mb" cx="303.55" cy="346" r="1.6"/><circle class="mb" cx="315.55" cy="336.18" r="1.6"/><circle class="mb" cx="327.82" cy="327.18" r="1.6"/><circle class="mb" cx="339.82" cy="323.36" r="1.6"/><circle class="mb" cx="352.09" cy="313.27" r="1.6"/>
<polyline class="lo" points="218.18,370.27 230.45,369.45 242.73,365.09 255,363.73 267,363.18 279,365.36 291.27,359.64 303.55,366.73 315.55,356.09 327.82,346.82 339.82,343 352.09,330.18"/>
<circle class="mo" cx="218.18" cy="370.27" r="1.6"/><circle class="mo" cx="230.45" cy="369.45" r="1.6"/><circle class="mo" cx="242.73" cy="365.09" r="1.6"/><circle class="mo" cx="255" cy="363.73" r="1.6"/><circle class="mo" cx="267" cy="363.18" r="1.6"/><circle class="mo" cx="279" cy="365.36" r="1.6"/><circle class="mo" cx="291.27" cy="359.64" r="1.6"/><circle class="mo" cx="303.55" cy="366.73" r="1.6"/><circle class="mo" cx="315.55" cy="356.09" r="1.6"/><circle class="mo" cx="327.82" cy="346.82" r="1.6"/><circle class="mo" cx="339.82" cy="343" r="1.6"/><circle class="mo" cx="352.09" cy="330.18" r="1.6"/>
</g>
<g>
<line class="g" x1="391.55" y1="370.8" x2="537.63" y2="370.8"/>
<line class="g" x1="391.55" y1="362.62" x2="537.63" y2="362.62"/>
<line class="g" x1="391.55" y1="354.45" x2="537.63" y2="354.45"/>
<line class="g" x1="391.55" y1="346.27" x2="537.63" y2="346.27"/>
<line class="g" x1="391.55" y1="338.1" x2="537.63" y2="338.1"/>
<line class="g" x1="391.55" y1="329.93" x2="537.63" y2="329.93"/>
<line class="g" x1="391.55" y1="321.75" x2="537.63" y2="321.75"/>
<line class="g" x1="391.55" y1="313.57" x2="537.63" y2="313.57"/>
<line class="g" x1="391.55" y1="305.4" x2="537.63" y2="305.4"/>
<text class="t" x="388" y="372.45" textLength="2.3" lengthAdjust="spacingAndGlyphs">0</text>
<text class="t" x="388" y="364.27" textLength="6.9" lengthAdjust="spacingAndGlyphs">200</text>
<text class="t" x="388" y="356.1" textLength="6.9" lengthAdjust="spacingAndGlyphs">400</text>
<text class="t" x="388" y="347.92" textLength="6.9" lengthAdjust="spacingAndGlyphs">600</text>
<text class="t" x="388" y="339.75" textLength="6.9" lengthAdjust="spacingAndGlyphs">800</text>
<text class="t" x="388" y="331.57" textLength="9.2" lengthAdjust="spacingAndGlyphs">1000</text>
<text class="t" x="388" y="323.4" textLength="9.2" lengthAdjust="spacingAndGlyphs">1200</text>
<text class="t" x="388" y="315.22" textLength="9.2" lengthAdjust="spacingAndGlyphs">1400</text>
<text class="t" x="388" y="307.05" textLength="9.2" lengthAdjust="spacingAndGlyphs">1600</text>
<text class="ti" x="441.3" y="289.9" textLength="34.5" lengthAdjust="spacingAndGlyphs">September</text>
<line class="lb" x1="438.2" y1="298.1" x2="450.4" y2="298.1"/><circle class="mb" cx="444.3" cy="298.1" r="1.6"/>
<text class="lg" x="451" y="299.85">Md</text>
<line class="lo" x1="462.4" y1="298.1" x2="474" y2="298.1"/><circle class="mo" cx="468.2" cy="298.1" r="1.6"/>
<text class="lg" x="474.6" y="299.85">Ms</text>
<text class="yt" textLength="51.7" lengthAdjust="spacingAndGlyphs" transform="translate(375.2,341.45) rotate(-90)">Flow rate (Kg/s)</text>
<polyline class="lb" points="397.64,366.45 410.18,361.82 422.45,360.18 434.45,353.91 446.45,350.91 458.73,350.64 471,345.45 483.27,341.36 495.27,329.64 507.27,327.45 519.55,323.64 531.55,309.73"/>
<circle class="mb" cx="397.64" cy="366.45" r="1.6"/><circle class="mb" cx="410.18" cy="361.82" r="1.6"/><circle class="mb" cx="422.45" cy="360.18" r="1.6"/><circle class="mb" cx="434.45" cy="353.91" r="1.6"/><circle class="mb" cx="446.45" cy="350.91" r="1.6"/><circle class="mb" cx="458.73" cy="350.64" r="1.6"/><circle class="mb" cx="471" cy="345.45" r="1.6"/><circle class="mb" cx="483.27" cy="341.36" r="1.6"/><circle class="mb" cx="495.27" cy="329.64" r="1.6"/><circle class="mb" cx="507.27" cy="327.45" r="1.6"/><circle class="mb" cx="519.55" cy="323.64" r="1.6"/><circle class="mb" cx="531.55" cy="309.73" r="1.6"/>
<polyline class="lo" points="397.64,370.55 410.18,368.91 422.45,370 434.45,364.27 446.45,368.36 458.73,367 471,364.55 483.27,362.09 495.27,353.91 507.27,352.27 519.55,348.73 531.55,333.73"/>
<circle class="mo" cx="397.64" cy="370.55" r="1.6"/><circle class="mo" cx="410.18" cy="368.91" r="1.6"/><circle class="mo" cx="422.45" cy="370" r="1.6"/><circle class="mo" cx="434.45" cy="364.27" r="1.6"/><circle class="mo" cx="446.45" cy="368.36" r="1.6"/><circle class="mo" cx="458.73" cy="367" r="1.6"/><circle class="mo" cx="471" cy="364.55" r="1.6"/><circle class="mo" cx="483.27" cy="362.09" r="1.6"/><circle class="mo" cx="495.27" cy="353.91" r="1.6"/><circle class="mo" cx="507.27" cy="352.27" r="1.6"/><circle class="mo" cx="519.55" cy="348.73" r="1.6"/><circle class="mo" cx="531.55" cy="333.73" r="1.6"/>
</g>
<g>
<line class="g" x1="33.97" y1="494.9" x2="180.94" y2="494.9"/>
<line class="g" x1="33.97" y1="488.25" x2="180.94" y2="488.25"/>
<line class="g" x1="33.97" y1="481.6" x2="180.94" y2="481.6"/>
<line class="g" x1="33.97" y1="474.95" x2="180.94" y2="474.95"/>
<line class="g" x1="33.97" y1="468.3" x2="180.94" y2="468.3"/>
<line class="g" x1="33.97" y1="461.65" x2="180.94" y2="461.65"/>
<line class="g" x1="33.97" y1="455" x2="180.94" y2="455"/>
<line class="g" x1="33.97" y1="448.35" x2="180.94" y2="448.35"/>
<line class="g" x1="33.97" y1="441.7" x2="180.94" y2="441.7"/>
<line class="g" x1="33.97" y1="435.05" x2="180.94" y2="435.05"/>
<line class="g" x1="33.97" y1="428.4" x2="180.94" y2="428.4"/>
<text class="t" x="30.9" y="496.55" textLength="2.3" lengthAdjust="spacingAndGlyphs">0</text>
<text class="t" x="30.9" y="489.9" textLength="6.9" lengthAdjust="spacingAndGlyphs">200</text>
<text class="t" x="30.9" y="483.25" textLength="6.9" lengthAdjust="spacingAndGlyphs">400</text>
<text class="t" x="30.9" y="476.6" textLength="6.9" lengthAdjust="spacingAndGlyphs">600</text>
<text class="t" x="30.9" y="469.95" textLength="6.9" lengthAdjust="spacingAndGlyphs">800</text>
<text class="t" x="30.9" y="463.3" textLength="9.2" lengthAdjust="spacingAndGlyphs">1000</text>
<text class="t" x="30.9" y="456.65" textLength="9.2" lengthAdjust="spacingAndGlyphs">1200</text>
<text class="t" x="30.9" y="450" textLength="9.2" lengthAdjust="spacingAndGlyphs">1400</text>
<text class="t" x="30.9" y="443.35" textLength="9.2" lengthAdjust="spacingAndGlyphs">1600</text>
<text class="t" x="30.9" y="436.7" textLength="9.2" lengthAdjust="spacingAndGlyphs">1800</text>
<text class="t" x="30.9" y="430.05" textLength="9.2" lengthAdjust="spacingAndGlyphs">2000</text>
<text class="ti" x="88.7" y="415.6" textLength="24.9" lengthAdjust="spacingAndGlyphs">October</text>
<line class="lb" x1="80.9" y1="421.6" x2="93.1" y2="421.6"/><circle class="mb" cx="87" cy="421.6" r="1.6"/>
<text class="lg" x="93.7" y="423.35">Md</text>
<line class="lo" x1="105.1" y1="421.6" x2="116.9" y2="421.6"/><circle class="mo" cx="111" cy="421.6" r="1.6"/>
<text class="lg" x="117.5" y="423.35">Ms</text>
<text class="yt" textLength="51.5" lengthAdjust="spacingAndGlyphs" transform="translate(17.9,465.35) rotate(-90)">Flow rate (Kg/s)</text>
<polyline class="lb" points="40.09,489.45 52.64,484 64.91,481.55 77.18,479.91 89.18,469.55 101.45,464.91 113.73,464.09 126,457.27 138.27,454 150.27,454.27 162.55,439.82 174.82,434.64"/>
<circle class="mb" cx="40.09" cy="489.45" r="1.6"/><circle class="mb" cx="52.64" cy="484" r="1.6"/><circle class="mb" cx="64.91" cy="481.55" r="1.6"/><circle class="mb" cx="77.18" cy="479.91" r="1.6"/><circle class="mb" cx="89.18" cy="469.55" r="1.6"/><circle class="mb" cx="101.45" cy="464.91" r="1.6"/><circle class="mb" cx="113.73" cy="464.09" r="1.6"/><circle class="mb" cx="126" cy="457.27" r="1.6"/><circle class="mb" cx="138.27" cy="454" r="1.6"/><circle class="mb" cx="150.27" cy="454.27" r="1.6"/><circle class="mb" cx="162.55" cy="439.82" r="1.6"/><circle class="mb" cx="174.82" cy="434.64" r="1.6"/>
<polyline class="lo" points="40.09,493.27 52.64,493 64.91,492.18 77.18,489.73 89.18,486.73 101.45,483.73 113.73,482.91 126,477.45 138.27,474.18 150.27,474.73 162.55,457.27 174.82,449.91"/>
<circle class="mo" cx="40.09" cy="493.27" r="1.6"/><circle class="mo" cx="52.64" cy="493" r="1.6"/><circle class="mo" cx="64.91" cy="492.18" r="1.6"/><circle class="mo" cx="77.18" cy="489.73" r="1.6"/><circle class="mo" cx="89.18" cy="486.73" r="1.6"/><circle class="mo" cx="101.45" cy="483.73" r="1.6"/><circle class="mo" cx="113.73" cy="482.91" r="1.6"/><circle class="mo" cx="126" cy="477.45" r="1.6"/><circle class="mo" cx="138.27" cy="474.18" r="1.6"/><circle class="mo" cx="150.27" cy="474.73" r="1.6"/><circle class="mo" cx="162.55" cy="457.27" r="1.6"/><circle class="mo" cx="174.82" cy="449.91" r="1.6"/>
</g>
<g>
<line class="g" x1="212.1" y1="494.6" x2="358.18" y2="494.6"/>
<line class="g" x1="212.1" y1="487.3" x2="358.18" y2="487.3"/>
<line class="g" x1="212.1" y1="480" x2="358.18" y2="480"/>
<line class="g" x1="212.1" y1="472.7" x2="358.18" y2="472.7"/>
<line class="g" x1="212.1" y1="465.4" x2="358.18" y2="465.4"/>
<line class="g" x1="212.1" y1="458.1" x2="358.18" y2="458.1"/>
<line class="g" x1="212.1" y1="450.8" x2="358.18" y2="450.8"/>
<line class="g" x1="212.1" y1="443.5" x2="358.18" y2="443.5"/>
<line class="g" x1="212.1" y1="436.2" x2="358.18" y2="436.2"/>
<line class="g" x1="212.1" y1="428.9" x2="358.18" y2="428.9"/>
<text class="t" x="208.6" y="496.25" textLength="2.3" lengthAdjust="spacingAndGlyphs">0</text>
<text class="t" x="208.6" y="488.95" textLength="6.9" lengthAdjust="spacingAndGlyphs">200</text>
<text class="t" x="208.6" y="481.65" textLength="6.9" lengthAdjust="spacingAndGlyphs">400</text>
<text class="t" x="208.6" y="474.35" textLength="6.9" lengthAdjust="spacingAndGlyphs">600</text>
<text class="t" x="208.6" y="467.05" textLength="6.9" lengthAdjust="spacingAndGlyphs">800</text>
<text class="t" x="208.6" y="459.75" textLength="9.2" lengthAdjust="spacingAndGlyphs">1000</text>
<text class="t" x="208.6" y="452.45" textLength="9.2" lengthAdjust="spacingAndGlyphs">1200</text>
<text class="t" x="208.6" y="445.15" textLength="9.2" lengthAdjust="spacingAndGlyphs">1400</text>
<text class="t" x="208.6" y="437.85" textLength="9.2" lengthAdjust="spacingAndGlyphs">1600</text>
<text class="t" x="208.6" y="430.55" textLength="9.2" lengthAdjust="spacingAndGlyphs">1800</text>
<text class="ti" x="263.3" y="414.4" textLength="34.5" lengthAdjust="spacingAndGlyphs">November</text>
<line class="lb" x1="258.7" y1="421.6" x2="270.9" y2="421.6"/><circle class="mb" cx="264.8" cy="421.6" r="1.6"/>
<text class="lg" x="271.5" y="423.35">Md</text>
<line class="lo" x1="282.7" y1="421.6" x2="294.5" y2="421.6"/><circle class="mo" cx="288.6" cy="421.6" r="1.6"/>
<text class="lg" x="295.1" y="423.35">Ms</text>
<text class="yt" textLength="51.5" lengthAdjust="spacingAndGlyphs" transform="translate(196,465.35) rotate(-90)">Flow rate (Kg/s)</text>
<polyline class="lb" points="218.18,490.55 230.45,488.64 242.45,482.09 254.73,478 267,472.55 279,466.55 291.27,465.18 303.55,462.18 315.55,459.45 327.55,458.09 339.82,445.82 352.09,436.27"/>
<circle class="mb" cx="218.18" cy="490.55" r="1.6"/><circle class="mb" cx="230.45" cy="488.64" r="1.6"/><circle class="mb" cx="242.45" cy="482.09" r="1.6"/><circle class="mb" cx="254.73" cy="478" r="1.6"/><circle class="mb" cx="267" cy="472.55" r="1.6"/><circle class="mb" cx="279" cy="466.55" r="1.6"/><circle class="mb" cx="291.27" cy="465.18" r="1.6"/><circle class="mb" cx="303.55" cy="462.18" r="1.6"/><circle class="mb" cx="315.55" cy="459.45" r="1.6"/><circle class="mb" cx="327.55" cy="458.09" r="1.6"/><circle class="mb" cx="339.82" cy="445.82" r="1.6"/><circle class="mb" cx="352.09" cy="436.27" r="1.6"/>
<polyline class="lo" points="218.18,494.36 230.45,493.82 242.45,493 254.73,491.36 267,489.18 279,479.91 291.27,479.36 303.55,473.64 315.55,481 327.55,478 339.82,468.45 352.09,456.73"/>
<circle class="mo" cx="218.18" cy="494.36" r="1.6"/><circle class="mo" cx="230.45" cy="493.82" r="1.6"/><circle class="mo" cx="242.45" cy="493" r="1.6"/><circle class="mo" cx="254.73" cy="491.36" r="1.6"/><circle class="mo" cx="267" cy="489.18" r="1.6"/><circle class="mo" cx="279" cy="479.91" r="1.6"/><circle class="mo" cx="291.27" cy="479.36" r="1.6"/><circle class="mo" cx="303.55" cy="473.64" r="1.6"/><circle class="mo" cx="315.55" cy="481" r="1.6"/><circle class="mo" cx="327.55" cy="478" r="1.6"/><circle class="mo" cx="339.82" cy="468.45" r="1.6"/><circle class="mo" cx="352.09" cy="456.73" r="1.6"/>
</g>
<g>
<line class="g" x1="390.38" y1="494.4" x2="536.17" y2="494.4"/>
<line class="g" x1="390.38" y1="487.07" x2="536.17" y2="487.07"/>
<line class="g" x1="390.38" y1="479.73" x2="536.17" y2="479.73"/>
<line class="g" x1="390.38" y1="472.4" x2="536.17" y2="472.4"/>
<line class="g" x1="390.38" y1="465.07" x2="536.17" y2="465.07"/>
<line class="g" x1="390.38" y1="457.73" x2="536.17" y2="457.73"/>
<line class="g" x1="390.38" y1="450.4" x2="536.17" y2="450.4"/>
<line class="g" x1="390.38" y1="443.07" x2="536.17" y2="443.07"/>
<line class="g" x1="390.38" y1="435.73" x2="536.17" y2="435.73"/>
<line class="g" x1="390.38" y1="428.4" x2="536.17" y2="428.4"/>
<text class="t" x="386.7" y="496.05" textLength="2.3" lengthAdjust="spacingAndGlyphs">0</text>
<text class="t" x="386.7" y="488.72" textLength="6.9" lengthAdjust="spacingAndGlyphs">200</text>
<text class="t" x="386.7" y="481.38" textLength="6.9" lengthAdjust="spacingAndGlyphs">400</text>
<text class="t" x="386.7" y="474.05" textLength="6.9" lengthAdjust="spacingAndGlyphs">600</text>
<text class="t" x="386.7" y="466.72" textLength="6.9" lengthAdjust="spacingAndGlyphs">800</text>
<text class="t" x="386.7" y="459.38" textLength="9.2" lengthAdjust="spacingAndGlyphs">1000</text>
<text class="t" x="386.7" y="452.05" textLength="9.2" lengthAdjust="spacingAndGlyphs">1200</text>
<text class="t" x="386.7" y="444.72" textLength="9.2" lengthAdjust="spacingAndGlyphs">1400</text>
<text class="t" x="386.7" y="437.38" textLength="9.2" lengthAdjust="spacingAndGlyphs">1600</text>
<text class="t" x="386.7" y="430.05" textLength="9.2" lengthAdjust="spacingAndGlyphs">1800</text>
<text class="ti" x="440.4" y="411.8" textLength="33.6" lengthAdjust="spacingAndGlyphs">December</text>
<line class="lb" x1="437.3" y1="421.3" x2="449.1" y2="421.3"/><circle class="mb" cx="443.2" cy="421.3" r="1.6"/>
<text class="lg" x="449.7" y="423.05">Md</text>
<line class="lo" x1="460.9" y1="421.3" x2="472.7" y2="421.3"/><circle class="mo" cx="466.8" cy="421.3" r="1.6"/>
<text class="lg" x="473.3" y="423.05">Ms</text>
<text class="yt" textLength="51.7" lengthAdjust="spacingAndGlyphs" transform="translate(374.4,464.85) rotate(-90)">Flow rate (Kg/s)</text>
<polyline class="lb" points="396.45,488.64 408.73,484.82 421,484.82 433,484 445.27,481 457.27,473.64 469.55,461.64 481.82,454.27 493.82,452.09 505.82,448 518.09,434.36 530.09,433.82"/>
<circle class="mb" cx="396.45" cy="488.64" r="1.6"/><circle class="mb" cx="408.73" cy="484.82" r="1.6"/><circle class="mb" cx="421" cy="484.82" r="1.6"/><circle class="mb" cx="433" cy="484" r="1.6"/><circle class="mb" cx="445.27" cy="481" r="1.6"/><circle class="mb" cx="457.27" cy="473.64" r="1.6"/><circle class="mb" cx="469.55" cy="461.64" r="1.6"/><circle class="mb" cx="481.82" cy="454.27" r="1.6"/><circle class="mb" cx="493.82" cy="452.09" r="1.6"/><circle class="mb" cx="505.82" cy="448" r="1.6"/><circle class="mb" cx="518.09" cy="434.36" r="1.6"/><circle class="mb" cx="530.09" cy="433.82" r="1.6"/>
<polyline class="lo" points="396.45,493 408.73,493.55 421,491.91 433,491.36 445.27,490.82 457.27,489.73 469.55,475.82 481.82,476.36 493.82,474.45 505.82,470.64 518.09,454.27 530.09,453.18"/>
<circle class="mo" cx="396.45" cy="493" r="1.6"/><circle class="mo" cx="408.73" cy="493.55" r="1.6"/><circle class="mo" cx="421" cy="491.91" r="1.6"/><circle class="mo" cx="433" cy="491.36" r="1.6"/><circle class="mo" cx="445.27" cy="490.82" r="1.6"/><circle class="mo" cx="457.27" cy="489.73" r="1.6"/><circle class="mo" cx="469.55" cy="475.82" r="1.6"/><circle class="mo" cx="481.82" cy="476.36" r="1.6"/><circle class="mo" cx="493.82" cy="474.45" r="1.6"/><circle class="mo" cx="505.82" cy="470.64" r="1.6"/><circle class="mo" cx="518.09" cy="454.27" r="1.6"/><circle class="mo" cx="530.09" cy="453.18" r="1.6"/>
</g>
<g fill="#000">
<rect x="5.5" y="4" width="538.5" height="3"/>
<rect x="5.5" y="250.9" width="538.5" height="3.1"/>
<rect x="5.5" y="4" width="3.5" height="250"/>
<rect x="541" y="4" width="3" height="250"/>
<rect x="5.5" y="127.5" width="538.5" height="3"/>
<rect x="184" y="4" width="3" height="250"/>
<rect x="363" y="4" width="3" height="250"/>
<rect x="5.5" y="268" width="538.5" height="3"/>
<rect x="5.5" y="514.7" width="538.5" height="3.1"/>
<rect x="5.5" y="268" width="3.5" height="249.8"/>
<rect x="541" y="268" width="3" height="249.8"/>
<rect x="5.5" y="391" width="538.5" height="3"/>
<rect x="184" y="268" width="3" height="249.8"/>
<rect x="363" y="268" width="3" height="249.8"/>
</g>
</svg>
</body></html>
